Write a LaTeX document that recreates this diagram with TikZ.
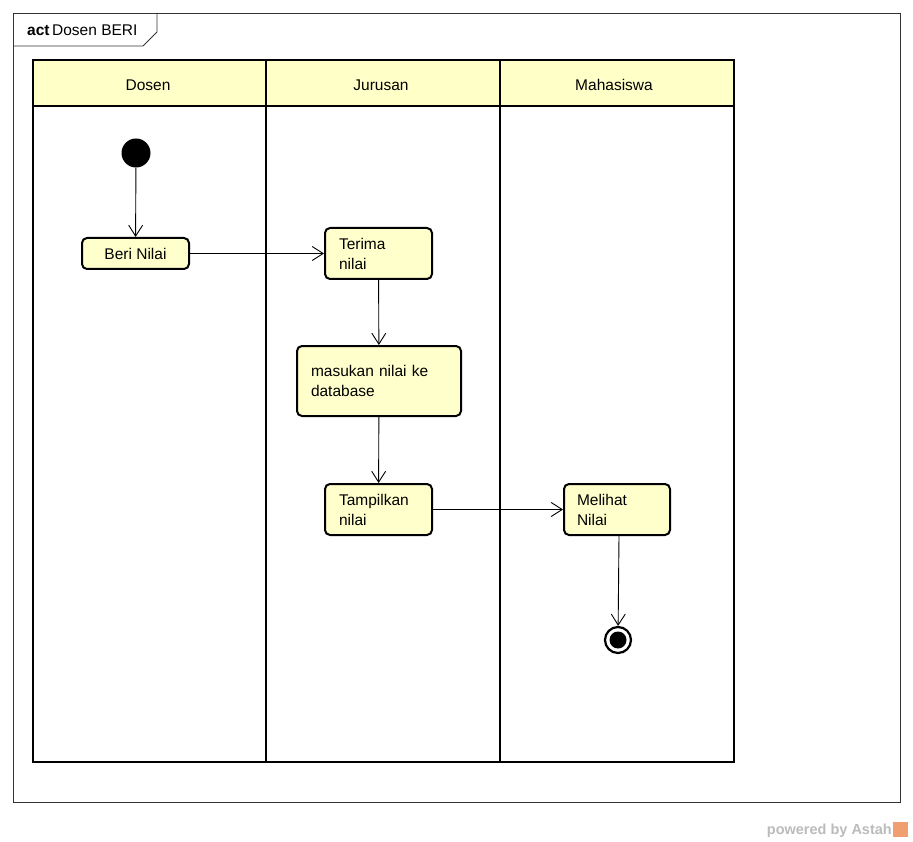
\documentclass[tikz,border=0pt]{standalone}
\usepackage{fontspec}
\setmainfont{Liberation Sans}
\usetikzlibrary{arrows.meta}
\definecolor{actfill}{HTML}{FFFFCC}
\definecolor{hdrfill}{HTML}{FFFFC8}
\definecolor{astahgray}{HTML}{BBBBBB}
\definecolor{astahorange}{HTML}{F0A070}
\begin{document}
\begin{tikzpicture}[x=1pt,y=-1pt,
  every node/.style={font=\fontsize{15.5}{20}\selectfont},
  action/.style={draw, line width=2pt, rounded corners=5pt, fill=actfill, inner ysep=0pt, align=left},
  centeract/.style={draw, line width=2pt, rounded corners=5pt, fill=actfill, inner sep=0pt, align=center},
  flow/.style={line width=0.9pt, -{Straight Barb[length=11pt,width=14pt]}},
  lane/.style={line width=2pt},
  hdr/.style={inner sep=0pt}
]
\useasboundingbox (0,0) rectangle (913,842);
% outer frame
\draw[line width=0.8pt, black!80] (13,13) rectangle (900,802);
\draw[line width=0.8pt, black!80] (13,46) -- (143,46) -- (157,32) -- (157,13);
\node[hdr, anchor=base west] (title) at (27,36) {\textbf{act}\,Dosen BERI};
% swimlanes
\fill[hdrfill] (33,60) rectangle (734,106);
\draw[lane] (33,60) rectangle (734,762);
\draw[lane] (33,106) -- (734,106);
\draw[lane] (266,60) -- (266,762);
\draw[lane] (500,60) -- (500,762);
\node[hdr] (hdosen) at (148,85) {Dosen};
\node[hdr] (hjurusan) at (381,85) {Jurusan};
\node[hdr] (hmhs) at (614,85) {Mahasiswa};
% nodes
\node[circle, fill=black, minimum size=29pt, inner sep=0pt] (start) at (136,153) {};
\node[centeract, minimum width=107pt, minimum height=31pt] (beri) at (135.5,253.5) {Beri Nilai};
\node[action, inner xsep=14pt, text width=79pt, minimum height=51pt] (terima) at (378.5,253.5) {Terima\\nilai};
\node[action, inner xsep=14pt, text width=136pt, minimum height=70pt] (masukan) at (379,381) {masukan nilai ke\\database};
\node[action, inner xsep=14pt, text width=79pt, minimum height=51pt] (tampil) at (378.5,509.5) {Tampilkan\\nilai};
\node[action, inner xsep=13pt, text width=80pt, minimum height=51pt] (melihat) at (617,509.5) {Melihat\\Nilai};
\node[circle, draw, line width=2.2pt, minimum size=26pt, inner sep=0pt] (end) at (618,640) {};
\node[circle, fill=black, minimum size=17pt, inner sep=0pt] (endin) at (618,640) {};
% flows
\draw[flow] (start) -- (beri);
\draw[flow] (beri) -- (terima);
\draw[flow] (terima) -- (masukan);
\draw[flow] (masukan) -- (tampil);
\draw[flow] (tampil) -- (melihat);
\draw[flow] (melihat.south -| 619,0) -- (end);
% powered by
\node[hdr, anchor=base east, text=astahgray, font=\bfseries\fontsize{14.5}{16}\selectfont] (pow) at (892,834) {powered by Astah};
\node[fill=astahorange, minimum width=15pt, minimum height=15pt, inner sep=0pt, anchor=south west] (logo) at (893,837) {};
\end{tikzpicture}
\end{document}
